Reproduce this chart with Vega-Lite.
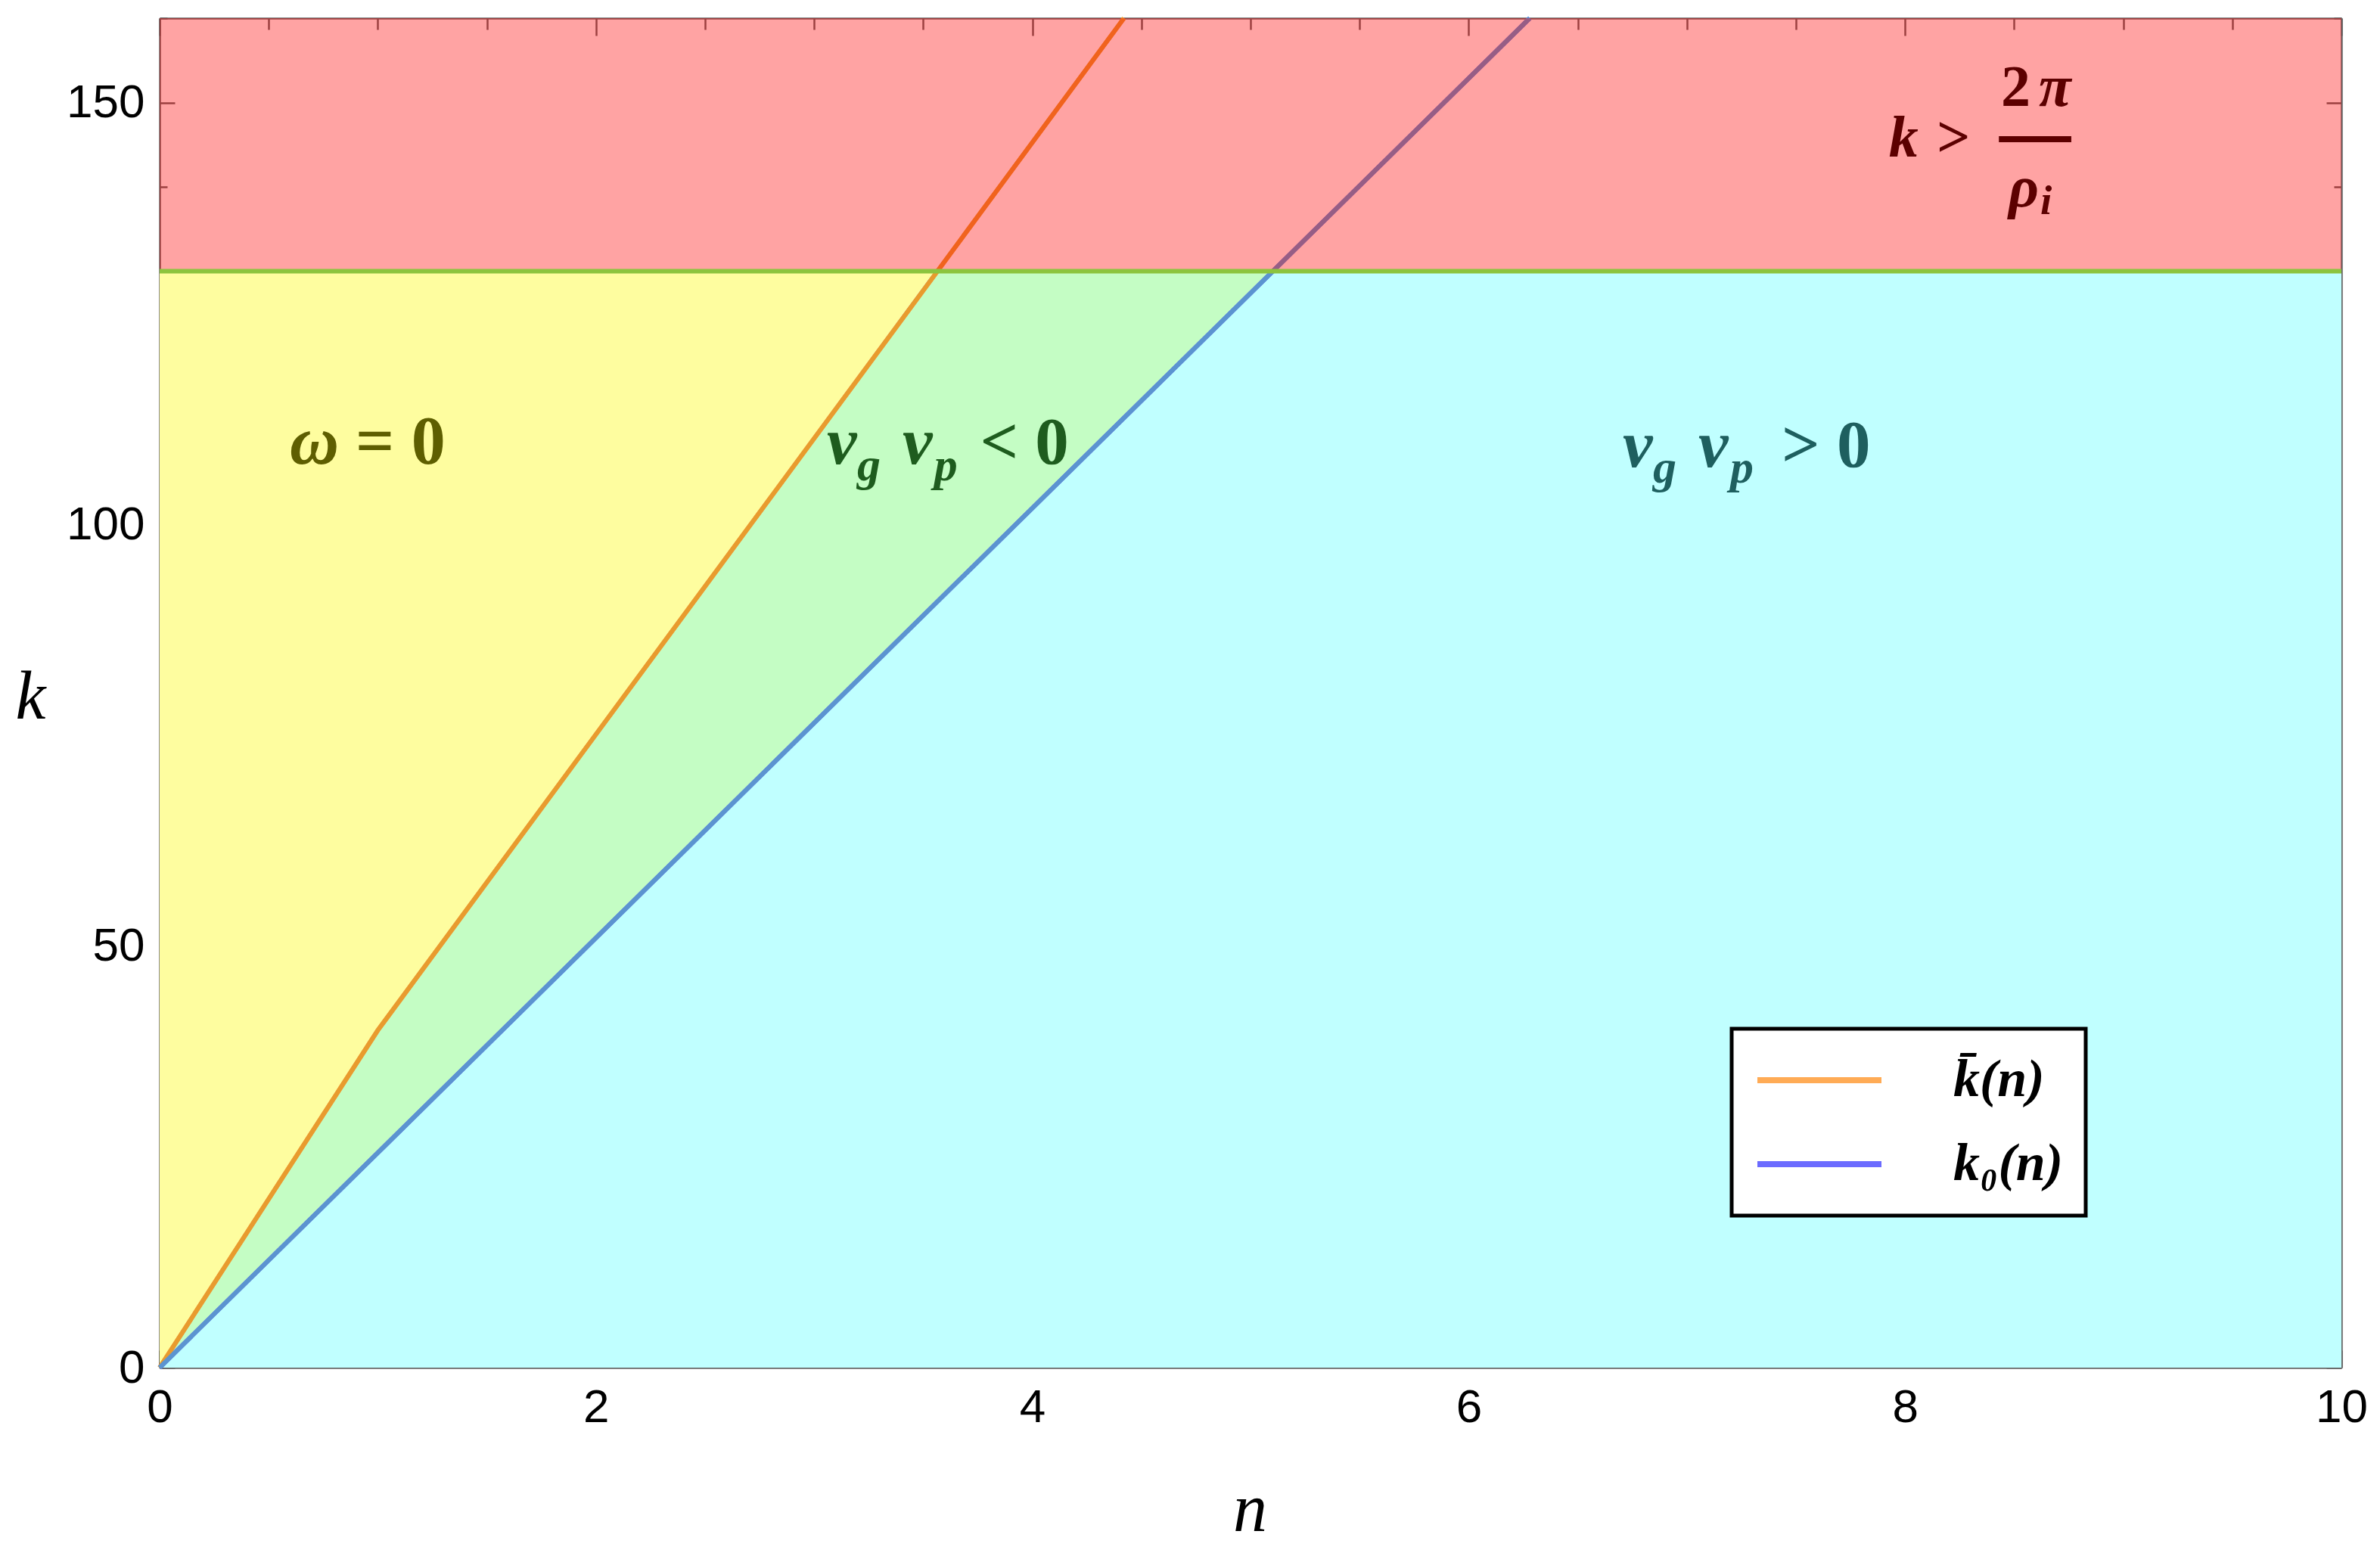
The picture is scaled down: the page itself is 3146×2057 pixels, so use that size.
{
  "$schema": "https://vega.github.io/schema/vega-lite/v6.json",
  "width": 2884,
  "height": 1784,
  "autosize": {"type": "none"},
  "padding": {"left": 211, "top": 24, "right": 51, "bottom": 249},
  "background": "white",
  "config": {
    "view": {"stroke": null},
    "axis": {
      "grid": false,
      "domainColor": "#666666",
      "domainWidth": 2.5,
      "tickColor": "#666666",
      "tickWidth": 2.5,
      "labelFont": "Liberation Sans Narrow, Liberation Sans",
      "labelFontSize": 62,
      "labelColor": "black",
      "labelFlush": false,
      "labelOverlap": false,
      "labelBound": false,
      "format": "~g",
      "zindex": 1,
      "titleFont": "Liberation Serif",
      "titleFontStyle": "italic",
      "titleFontWeight": "normal",
      "titleFontSize": 90,
      "titleColor": "black"
    }
  },
  "resolve": {"axis": {"x": "independent", "y": "independent"}},
  "layer": [
    {
      "layer": [
        {
          "data": {"values": [
            {"k": 0, "left": 0, "kbar": 0, "k0": 0, "right": 10},
            {"k": 40, "left": 0, "kbar": 1.0, "k0": 1.57, "right": 10},
            {"k": 130, "left": 0, "kbar": 3.55, "k0": 5.1, "right": 10}
          ]},
          "layer": [
            {
              "mark": {"type": "area", "orient": "horizontal", "color": "#c0ffff"},
              "encoding": {
                "y": {
                  "field": "k",
                  "type": "quantitative",
                  "scale": {"domain": [0, 160], "nice": false},
                  "axis": {
                    "orient": "left",
                    "title": "k",
                    "titleAngle": 0,
                    "titleX": -171,
                    "titleY": 898,
                    "titleAlign": "center",
                    "titleBaseline": "middle",
                    "values": [0, 10, 20, 30, 40, 50, 60, 70, 80, 90, 100, 110, 120, 130, 140, 150, 160],
                    "format": "d",
                    "labelExpr": "datum.value % 50 === 0 ? datum.label : ''",
                    "tickSize": {"expr": "datum.value % 50 === 0 ? -20 : -10"},
                    "labelPadding": 40
                  }
                },
                "x": {
                  "field": "k0",
                  "type": "quantitative",
                  "scale": {"domain": [0, 10], "nice": false},
                  "axis": {
                    "orient": "bottom",
                    "title": "n",
                    "titleX": 1441,
                    "titleY": 215,
                    "titleAlign": "center",
                    "titleBaseline": "alphabetic",
                    "values": [0, 0.5, 1, 1.5, 2, 2.5, 3, 3.5, 4, 4.5, 5, 5.5, 6, 6.5, 7, 7.5, 8, 8.5, 9, 9.5, 10],
                    "format": "~g",
                    "labelExpr": "datum.value % 2 === 0 ? datum.label : ''",
                    "tickSize": {"expr": "datum.value % 2 === 0 ? -23 : -15"},
                    "labelPadding": 45
                  }
                },
                "x2": {"field": "right"}
              }
            },
            {
              "mark": {"type": "area", "orient": "horizontal", "color": "#c4fdc4"},
              "encoding": {
                "y": {"field": "k", "type": "quantitative"},
                "x": {"field": "kbar", "type": "quantitative"},
                "x2": {"field": "k0"}
              }
            },
            {
              "mark": {"type": "area", "orient": "horizontal", "color": "#fefd9f"},
              "encoding": {
                "y": {"field": "k", "type": "quantitative"},
                "x": {"field": "left", "type": "quantitative"},
                "x2": {"field": "kbar"}
              }
            }
          ]
        },
        {
          "data": {"values": [
            {"series": "k̄(n)", "n": 0, "k": 0},
            {"series": "k̄(n)", "n": 1.0, "k": 40},
            {"series": "k̄(n)", "n": 4.42, "k": 160},
            {"series": "k₀(n)", "n": 0, "k": 0},
            {"series": "k₀(n)", "n": 6.28, "k": 160}
          ]},
          "layer": [
            {
              "mark": {"type": "line", "strokeWidth": 6},
              "encoding": {
                "x": {"field": "n", "type": "quantitative"},
                "y": {"field": "k", "type": "quantitative"},
                "color": {
                  "field": "series",
                  "type": "nominal",
                  "scale": {"domain": ["k̄(n)", "k₀(n)"], "range": ["#ffab55", "#6b6bff"]},
                  "legend": {
                    "title": null,
                    "orient": "none",
                    "legendX": 2078,
                    "legendY": 1336,
                    "fillColor": "white",
                    "strokeColor": "black",
                    "padding": 30,
                    "symbolType": "stroke",
                    "symbolSize": 26896,
                    "symbolStrokeWidth": 8,
                    "clipHeight": 76,
                    "rowPadding": 35,
                    "labelOffset": 91,
                    "labelFont": "Liberation Serif",
                    "labelFontSize": 70,
                    "labelFontStyle": "italic",
                    "labelFontWeight": "bold",
                    "labelColor": "black",
                    "labelLimit": 0,
                    "encode": {
                      "legend": {"update": {"strokeWidth": {"value": 5}}},
                      "symbols": {"update": {"strokeWidth": {"value": 8}}}
                    }
                  }
                }
              }
            },
            {
              "mark": {"type": "line", "strokeWidth": 6},
              "encoding": {
                "x": {"field": "n", "type": "quantitative"},
                "y": {"field": "k", "type": "quantitative"},
                "stroke": {
                  "field": "series",
                  "type": "nominal",
                  "scale": {"domain": ["k̄(n)", "k₀(n)"], "range": ["#e89b2e", "#5b94d0"]},
                  "legend": null
                }
              }
            }
          ]
        },
        {
          "data": {"values": [{"left": 0, "right": 10, "lo": 130, "hi": 160}]},
          "layer": [
            {
              "mark": {"type": "rect", "color": "#ff0000", "opacity": 0.36},
              "encoding": {
                "x": {"field": "left", "type": "quantitative"},
                "x2": {"field": "right"},
                "y": {"field": "lo", "type": "quantitative"},
                "y2": {"field": "hi"}
              }
            },
            {
              "mark": {"type": "rule", "color": "#8cc43e", "strokeWidth": 6},
              "encoding": {
                "x": {"field": "left", "type": "quantitative"},
                "x2": {"field": "right"},
                "y": {"field": "lo", "type": "quantitative"}
              }
            }
          ]
        },
        {
          "data": {"values": [{"t": "ω", "n": 0.596, "k": 107.2}]},
          "mark": {"type": "text", "align": "left", "baseline": "alphabetic", "font": "Liberation Serif", "fontSize": 90, "fontStyle": "italic", "fontWeight": "bold", "color": "#5e5e00"},
          "encoding": {"x": {"field": "n", "type": "quantitative"}, "y": {"field": "k", "type": "quantitative"}, "text": {"field": "t", "type": "nominal"}}
        },
        {
          "data": {"values": [{"t": "= 0", "n": 0.898, "k": 107.2}]},
          "mark": {"type": "text", "align": "left", "baseline": "alphabetic", "font": "Liberation Serif", "fontSize": 90, "fontWeight": "bold", "color": "#5e5e00"},
          "encoding": {"x": {"field": "n", "type": "quantitative"}, "y": {"field": "k", "type": "quantitative"}, "text": {"field": "t", "type": "nominal"}}
        },
        {
          "data": {"values": [{"t": "v", "n": 3.058, "k": 107.2}, {"t": "v", "n": 3.405, "k": 107.2}]},
          "mark": {"type": "text", "align": "left", "baseline": "alphabetic", "font": "Liberation Serif", "fontSize": 89, "fontStyle": "italic", "fontWeight": "bold", "color": "#1e5c1e"},
          "encoding": {"x": {"field": "n", "type": "quantitative"}, "y": {"field": "k", "type": "quantitative"}, "text": {"field": "t", "type": "nominal"}}
        },
        {
          "data": {"values": [{"t": "g", "n": 3.197, "k": 105.2}, {"t": "p", "n": 3.55, "k": 105.2}]},
          "mark": {"type": "text", "align": "left", "baseline": "alphabetic", "font": "Liberation Serif", "fontSize": 62, "fontStyle": "italic", "fontWeight": "bold", "color": "#1e5c1e"},
          "encoding": {"x": {"field": "n", "type": "quantitative"}, "y": {"field": "k", "type": "quantitative"}, "text": {"field": "t", "type": "nominal"}}
        },
        {
          "data": {"values": [{"t": "< 0", "n": 3.76, "k": 107.2}]},
          "mark": {"type": "text", "align": "left", "baseline": "alphabetic", "font": "Liberation Serif", "fontSize": 89, "fontWeight": "bold", "color": "#1e5c1e"},
          "encoding": {"x": {"field": "n", "type": "quantitative"}, "y": {"field": "k", "type": "quantitative"}, "text": {"field": "t", "type": "nominal"}}
        },
        {
          "data": {"values": [{"t": "v", "n": 6.706, "k": 106.8}, {"t": "v", "n": 7.053, "k": 106.8}]},
          "mark": {"type": "text", "align": "left", "baseline": "alphabetic", "font": "Liberation Serif", "fontSize": 89, "fontStyle": "italic", "fontWeight": "bold", "color": "#1e5f5f"},
          "encoding": {"x": {"field": "n", "type": "quantitative"}, "y": {"field": "k", "type": "quantitative"}, "text": {"field": "t", "type": "nominal"}}
        },
        {
          "data": {"values": [{"t": "g", "n": 6.845, "k": 104.9}, {"t": "p", "n": 7.198, "k": 104.9}]},
          "mark": {"type": "text", "align": "left", "baseline": "alphabetic", "font": "Liberation Serif", "fontSize": 62, "fontStyle": "italic", "fontWeight": "bold", "color": "#1e5f5f"},
          "encoding": {"x": {"field": "n", "type": "quantitative"}, "y": {"field": "k", "type": "quantitative"}, "text": {"field": "t", "type": "nominal"}}
        },
        {
          "data": {"values": [{"t": "> 0", "n": 7.434, "k": 106.8}]},
          "mark": {"type": "text", "align": "left", "baseline": "alphabetic", "font": "Liberation Serif", "fontSize": 89, "fontWeight": "bold", "color": "#1e5f5f"},
          "encoding": {"x": {"field": "n", "type": "quantitative"}, "y": {"field": "k", "type": "quantitative"}, "text": {"field": "t", "type": "nominal"}}
        },
        {
          "data": {"values": [{"t": "k", "n": 7.926, "k": 143.6}, {"t": "π", "n": 8.613, "k": 149.6}, {"t": "ρ", "n": 8.474, "k": 137.7}]},
          "mark": {"type": "text", "align": "left", "baseline": "alphabetic", "font": "Liberation Serif", "fontSize": 78, "fontStyle": "italic", "fontWeight": "bold", "color": "#5c0000"},
          "encoding": {"x": {"field": "n", "type": "quantitative"}, "y": {"field": "k", "type": "quantitative"}, "text": {"field": "t", "type": "nominal"}}
        },
        {
          "data": {"values": [{"t": ">", "n": 8.145, "k": 143.6}, {"t": "2", "n": 8.44, "k": 149.6}]},
          "mark": {"type": "text", "align": "left", "baseline": "alphabetic", "font": "Liberation Serif", "fontSize": 78, "fontWeight": "bold", "color": "#5c0000"},
          "encoding": {"x": {"field": "n", "type": "quantitative"}, "y": {"field": "k", "type": "quantitative"}, "text": {"field": "t", "type": "nominal"}}
        },
        {
          "data": {"values": [{"t": "i", "n": 8.62, "k": 136.8}]},
          "mark": {"type": "text", "align": "left", "baseline": "alphabetic", "font": "Liberation Serif", "fontSize": 55, "fontStyle": "italic", "fontWeight": "bold", "color": "#5c0000"},
          "encoding": {"x": {"field": "n", "type": "quantitative"}, "y": {"field": "k", "type": "quantitative"}, "text": {"field": "t", "type": "nominal"}}
        },
        {
          "data": {"values": [{"n1": 8.43, "n2": 8.762, "k": 145.65}]},
          "mark": {"type": "rule", "color": "#5c0000", "strokeWidth": 8},
          "encoding": {"x": {"field": "n1", "type": "quantitative"}, "x2": {"field": "n2"}, "y": {"field": "k", "type": "quantitative"}}
        }
      ]
    },
    {
      "data": {"values": [{"n": 0, "k": 0}]},
      "mark": {"type": "point", "opacity": 0},
      "encoding": {
        "x": {
          "field": "n",
          "type": "quantitative",
          "axis": {
            "orient": "top",
            "title": null,
            "labels": false,
            "values": [0, 0.5, 1, 1.5, 2, 2.5, 3, 3.5, 4, 4.5, 5, 5.5, 6, 6.5, 7, 7.5, 8, 8.5, 9, 9.5, 10],
            "tickSize": {"expr": "datum.value % 2 === 0 ? -23 : -15"}
          }
        },
        "y": {
          "field": "k",
          "type": "quantitative",
          "axis": {
            "orient": "right",
            "title": null,
            "labels": false,
            "values": [0, 10, 20, 30, 40, 50, 60, 70, 80, 90, 100, 110, 120, 130, 140, 150, 160],
            "tickSize": {"expr": "datum.value % 50 === 0 ? -20 : -10"}
          }
        }
      }
    }
  ]
}
